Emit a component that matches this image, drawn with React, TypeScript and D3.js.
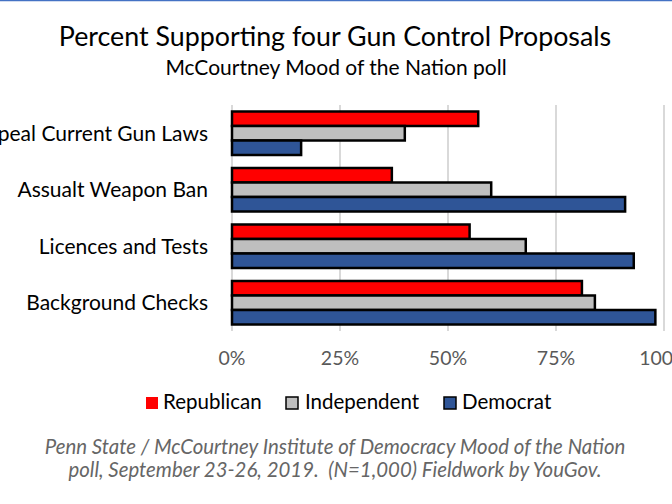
import React from 'react';
import { scaleLinear, scaleBand } from 'd3';

const categories = ['Repeal Current Gun Laws', 'Assualt Weapon Ban', 'Licences and Tests', 'Background Checks'];
const seriesNames = ['Republican', 'Independent', 'Democrat'];
const republican = [57, 37, 55, 81];
const independent = [40, 60, 68, 84];
const democrat = [16, 91, 93, 98];
const tickValues = [0, 25, 50, 75, 100];
const seriesColors = ['#ff0000', '#bfbfbf', '#2f5597'];

const W = 672;
const H = 504;
const FONT = 'Lato, "Noto Sans", sans-serif';

const App: React.FC = () => {
  const values = [republican, independent, democrat];
  const x = scaleLinear().domain([0, 100]).range([232, 664]);
  const y = scaleBand<string>().domain(categories).range([105, 331]).paddingInner(0.23).paddingOuter(0.115);
  const inner = scaleBand<string>().domain(seriesNames).range([0, y.bandwidth()]);

  // legend layout
  const legendItems = [
    { name: 'Republican', sx: 146, tx: 163 },
    { name: 'Independent', sx: 286, tx: 305 },
    { name: 'Democrat', sx: 444, tx: 462 },
  ];

  return (
    <svg width={W} height={H} style={{ position: 'absolute', left: 0, top: 0, background: '#fff' }}>
      <rect x={0} y={0} width={W} height={H} fill="#fff" />
      <line x1={0} x2={W} y1={0.5} y2={0.5} stroke="#4472c4" strokeWidth={1.5} />

      <text x={335} y={46} textAnchor="middle" fontFamily={FONT} fontSize={26.8} fill="#000">
        Percent Supporting four Gun Control Proposals
      </text>
      <text x={336} y={75} textAnchor="middle" fontFamily={FONT} fontSize={21} fill="#000">
        McCourtney Mood of the Nation poll
      </text>

      {tickValues.map(t => (
        <g key={t}>
          <line x1={x(t)} x2={x(t)} y1={105} y2={331} stroke="#d9d9d9" strokeWidth={2} />
          <text x={x(t)} y={365} textAnchor="middle" fontFamily={FONT} fontSize={19.5} fill="#595959">
            {t}%
          </text>
        </g>
      ))}

      {categories.map((c, i) => (
        <g key={c}>
          <text
            x={208}
            y={(y(c) as number) + y.bandwidth() / 2}
            dy="0.35em"
            textAnchor="end"
            fontFamily={FONT}
            fontSize={21}
            fill="#000"
          >
            {c}
          </text>
          {seriesNames.map((s, j) => (
            <rect
              key={s}
              x={x(0)}
              y={(y(c) as number) + (inner(s) as number)}
              width={x(values[j][i]) - x(0)}
              height={inner.bandwidth()}
              fill={seriesColors[j]}
              stroke="#000"
              strokeWidth={2.5}
            />
          ))}
        </g>
      ))}

      {legendItems.map((d, j) => (
        <g key={d.name}>
          <rect
            x={d.sx}
            y={397}
            width={12}
            height={12}
            fill={seriesColors[j]}
            stroke={j === 0 ? 'none' : '#000'}
            strokeWidth={1.5}
          />
          <text x={d.tx} y={409} fontFamily={FONT} fontSize={20.5} fill="#000">
            {d.name}
          </text>
        </g>
      ))}

      <text x={335} y={454} textAnchor="middle" fontFamily={FONT} fontStyle="italic" fontSize={20.4} fill="#666666">
        Penn State / McCourtney Institute of Democracy Mood of the Nation
      </text>
      <text x={335} y={477} textAnchor="middle" fontFamily={FONT} fontStyle="italic" fontSize={20.4} fill="#666666" style={{ whiteSpace: 'pre' }}>
        {'poll, September 23-26, 2019.  (N=1,000) Fieldwork by YouGov.'}
      </text>
    </svg>
  );
};

export default App;
